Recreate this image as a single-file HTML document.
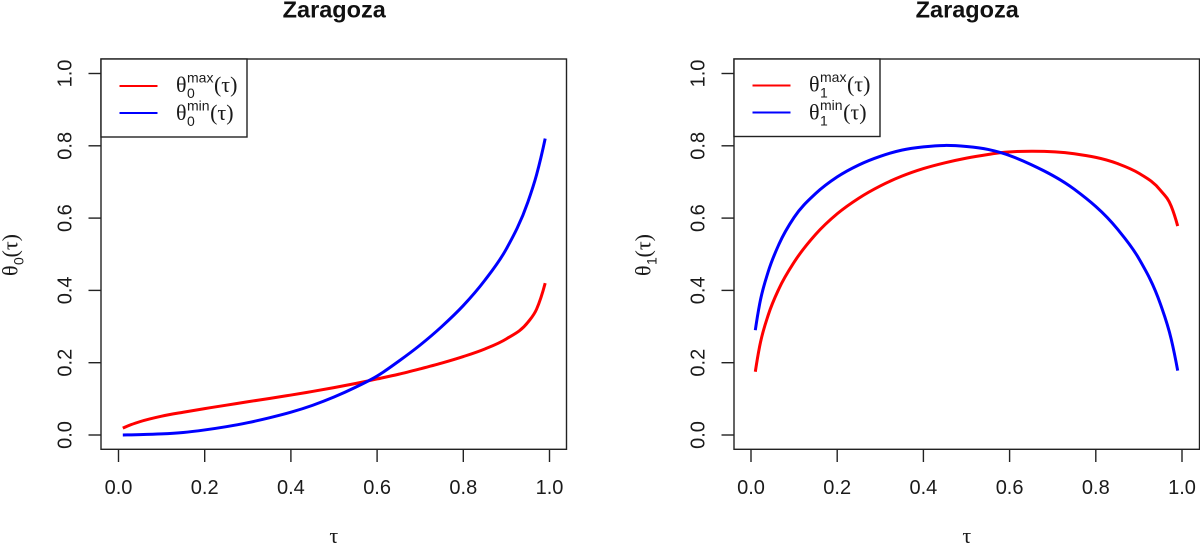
<!DOCTYPE html>
<html lang="en">
<head>
<meta charset="utf-8">
<title>Zaragoza</title>
<style>
html,body{margin:0;padding:0;background:#fff;width:1200px;height:544px;overflow:hidden}
svg{display:block}
text{font-family:"Liberation Sans",sans-serif;fill:#1a1a1a}
.sym{font-family:"Liberation Serif","DejaVu Serif",serif}
</style>
</head>
<body>
<svg id="chart" xmlns="http://www.w3.org/2000/svg" width="1200" height="544" viewBox="0 0 1200 544"></svg>
<script>
const xTickLabels = ['0.0', '0.2', '0.4', '0.6', '0.8', '1.0'];
const yTickLabels = ['0.0', '0.2', '0.4', '0.6', '0.8', '1.0'];
const tauLeft = [0.01, 0.03, 0.05, 0.1, 0.15, 0.2, 0.25, 0.3, 0.35, 0.4, 0.45, 0.5, 0.55, 0.6, 0.65, 0.7, 0.75, 0.8, 0.85, 0.9, 0.95, 0.97, 0.99];
const theta0Max = [0.019, 0.029, 0.037, 0.052, 0.063, 0.073, 0.0825, 0.092, 0.101, 0.1105, 0.1205, 0.131, 0.1425, 0.155, 0.168, 0.183, 0.199, 0.217, 0.238, 0.266, 0.312, 0.348, 0.42];
const theta0Min = [0, 0.0005, 0.001, 0.003, 0.007, 0.014, 0.023, 0.034, 0.0475, 0.063, 0.082, 0.105, 0.132, 0.163, 0.204, 0.249, 0.3, 0.358, 0.428, 0.515, 0.645, 0.72, 0.82];
const tauRight = [0.01, 0.02, 0.04, 0.065, 0.1, 0.15, 0.2, 0.25, 0.3, 0.35, 0.4, 0.45, 0.5, 0.55, 0.58, 0.65, 0.75, 0.85, 0.9, 0.95, 0.975, 0.99];
const theta1Max = [0.175, 0.245, 0.332, 0.405, 0.478, 0.555, 0.612, 0.655, 0.689, 0.716, 0.737, 0.753, 0.766, 0.776, 0.781, 0.785, 0.778, 0.751, 0.724, 0.677, 0.633, 0.578];
const theta1Min = [0.29, 0.362, 0.452, 0.528, 0.602, 0.668, 0.714, 0.747, 0.771, 0.788, 0.797, 0.801, 0.798, 0.79, 0.781, 0.748, 0.68, 0.57, 0.488, 0.362, 0.265, 0.178];

const NS = 'http://www.w3.org/2000/svg';
const svg = document.getElementById('chart');

function el(parent, tag, attrs, txt) {
  const n = document.createElementNS(NS, tag);
  for (const k in attrs) n.setAttribute(k, attrs[k]);
  if (txt !== undefined) n.textContent = txt;
  parent.appendChild(n);
  return n;
}

function smoothPath(xs, ys) {
  const n = xs.length;
  const sec = [];
  for (let i = 0; i < n - 1; i++) sec.push((ys[i + 1] - ys[i]) / (xs[i + 1] - xs[i]));
  const slope = new Array(n);
  for (let i = 1; i < n - 1; i++) {
    const h0 = xs[i] - xs[i - 1], h1 = xs[i + 1] - xs[i];
    slope[i] = (h1 * sec[i - 1] + h0 * sec[i]) / (h0 + h1);
  }
  slope[0] = 2 * sec[0] - slope[1];
  slope[n - 1] = 2 * sec[n - 2] - slope[n - 2];
  let d = 'M' + xs[0].toFixed(2) + ' ' + ys[0].toFixed(2);
  for (let i = 0; i < n - 1; i++) {
    const h = (xs[i + 1] - xs[i]) / 3;
    d += 'C' + (xs[i] + h).toFixed(2) + ' ' + (ys[i] + slope[i] * h).toFixed(2) + ' ' +
      (xs[i + 1] - h).toFixed(2) + ' ' + (ys[i + 1] - slope[i + 1] * h).toFixed(2) + ' ' +
      xs[i + 1].toFixed(2) + ' ' + ys[i + 1].toFixed(2);
  }
  return d;
}

function drawMathLabel(parent, x, y, sub, sup) {
  const t = el(parent, 'text', {x: x, y: y, class: 'sym', 'font-size': 22}, '\u03B8');
  
  
  const subT = el(parent, 'text', {x: x + 11, y: y + 6, 'font-size': 14}, sub);
  
  
  let after = x + 18.5;
  if (sup) {
    const supT = el(parent, 'text', {x: x + 11, y: y - 9.5, 'font-size': 14}, sup);
    
    
    after = x + 11 + supT.getComputedTextLength() + 0.5;
  }
  const rest = el(parent, 'text', {x: after, y: y, class: 'sym', 'font-size': 22}, '(\u03C4)');
  
  
}

function drawPanel(cfg) {
  const g = el(svg, 'g', {});
  
  

  const xScale = v => cfg.x0 + (cfg.x1 - cfg.x0) * v;
  const yScale = v => 435 - 361.5 * v;

  const box = el(g, 'rect', {x: cfg.left, y: 59, width: cfg.right - cfg.left, height: 390.3, fill: 'none', stroke: '#222', 'stroke-width': 1.4});
  
  

  xTickLabels.forEach(function (label) {
    const px = xScale(parseFloat(label));
    const tick = el(g, 'line', {x1: px, x2: px, y1: 449.3, y2: 462, stroke: '#222', 'stroke-width': 1.4});
    
    
    const t = el(g, 'text', {x: px, y: 494, 'text-anchor': 'middle', 'font-size': 20}, label);
    
    
  });

  yTickLabels.forEach(function (label) {
    const py = yScale(parseFloat(label));
    const tick = el(g, 'line', {x1: cfg.left - 12.5, x2: cfg.left, y1: py, y2: py, stroke: '#222', 'stroke-width': 1.4});
    
    
    const lx = cfg.left - 29.5;
    const t = el(g, 'text', {x: lx, y: py, 'text-anchor': 'middle', 'font-size': 20, transform: 'rotate(-90 ' + lx + ' ' + py + ')'}, label);
    
    
  });

  const title = el(g, 'text', {x: (cfg.left + cfg.right) / 2 + 0.5, y: 17.5, 'text-anchor': 'middle', 'font-size': 23.5, 'font-weight': 'bold', style: 'fill:#111'}, 'Zaragoza');
  
  

  const xTitle = el(g, 'text', {x: (cfg.left + cfg.right) / 2, y: 543, 'text-anchor': 'middle', class: 'sym', 'font-size': 22}, '\u03C4');
  
  

  const yTitle = el(g, 'g', {transform: 'translate(' + (cfg.left - 83.5) + ' 276) rotate(-90)'});
  
  
  drawMathLabel(yTitle, 0, 0, cfg.sub, null);

  const red = el(g, 'path', {d: smoothPath(cfg.tau.map(xScale), cfg.maxVals.map(yScale)), fill: 'none', stroke: '#ff0000', 'stroke-width': 3});
  
  
  const blue = el(g, 'path', {d: smoothPath(cfg.tau.map(xScale), cfg.minVals.map(yScale)), fill: 'none', stroke: '#0000ff', 'stroke-width': 3});
  
  

  const legend = el(g, 'g', {});
  
  
  const lb = el(legend, 'rect', {x: cfg.left, y: 59, width: 146, height: 78 + cfg.dy, fill: '#fff', stroke: '#222', 'stroke-width': 1.4});
  
  

  const l1 = el(legend, 'line', {x1: cfg.left + 18.5, x2: cfg.left + 56.5, y1: 86 + cfg.dy, y2: 86 + cfg.dy, stroke: '#ff0000', 'stroke-width': 2});
  
  
  const l2 = el(legend, 'line', {x1: cfg.left + 18.5, x2: cfg.left + 56.5, y1: 113 + cfg.dy, y2: 113 + cfg.dy, stroke: '#0000ff', 'stroke-width': 2});
  
  

  drawMathLabel(legend, cfg.left + 75, 92 + cfg.dy, cfg.sub, 'max');
  drawMathLabel(legend, cfg.left + 75, 120 + cfg.dy, cfg.sub, 'min');
}

drawPanel({name: 'theta0-panel', left: 101, right: 566.5, x0: 118.5, x1: 549.5, sub: '0', dy: 0, tau: tauLeft, maxVals: theta0Max, minVals: theta0Min});
drawPanel({name: 'theta1-panel', left: 734, right: 1199.5, x0: 751, x1: 1182, sub: '1', dy: -0.5, tau: tauRight, maxVals: theta1Max, minVals: theta1Min});
</script>
</body>
</html>
